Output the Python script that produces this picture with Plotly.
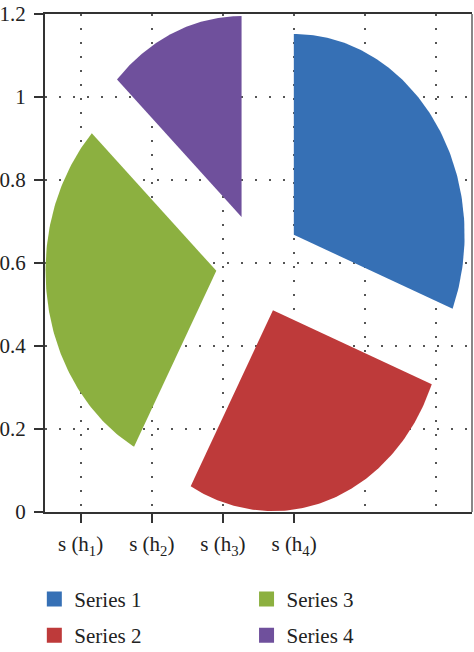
import numpy as np
import plotly.graph_objects as go

# ---- data ----
CATEGORIES = ["s (h<sub>1</sub>)", "s (h<sub>2</sub>)", "s (h<sub>3</sub>)", "s (h<sub>4</sub>)"]
N_GRID_COLS = 6
SERIES = ["Series 1", "Series 2", "Series 3", "Series 4"]
VALUES = [0.31, 0.27, 0.29, 0.13]
COLORS = ["#3670B5", "#BE3A3A", "#8CB040", "#6F509C"]
LEGEND_OF = ["legend", "legend", "legend2", "legend2"]

# ---- pie geometry (in axis units) ----
CX, CY = N_GRID_COLS / 2, 0.6
RX, RY = 2.4, 0.484
EXPLODE = 0.25
FONT = "Liberation Serif"

fig = go.Figure()

start = 90.0
for name, v, c in zip(SERIES, VALUES, COLORS):
    a0 = start
    a1 = start - v * 360.0
    mid = np.radians((a0 + a1) / 2)
    ox = CX + EXPLODE * RX * np.cos(mid)
    oy = CY + EXPLODE * RY * np.sin(mid)
    th = np.radians(np.linspace(a0, a1, 120))
    xs = np.concatenate([[ox], ox + RX * np.cos(th), [ox]])
    ys = np.concatenate([[oy], oy + RY * np.sin(th), [oy]])
    fig.add_trace(go.Scatter(x=xs, y=ys, mode="lines", fill="toself",
                             fillcolor=c, line=dict(width=0, color=c),
                             showlegend=False, hoverinfo="skip"))
    start = a1

for name, c, lg in zip(SERIES, COLORS, LEGEND_OF):
    fig.add_trace(go.Scatter(x=[None], y=[None], mode="markers", name=name,
                             marker=dict(symbol="square", size=15, color=c),
                             legend=lg, legendgroup=name))

grid = dict(gridcolor="#555555", gridwidth=1.5, griddash="2px,12px")
fig.update_layout(
    width=474, height=652,
    margin=dict(l=45, r=2, t=14, b=140, autoexpand=False),
    paper_bgcolor="white", plot_bgcolor="white",
    font=dict(family=FONT, size=21, color="#222222"),
    xaxis=dict(range=[0, N_GRID_COLS], showline=True, linecolor="#333333", linewidth=2,
               mirror=True, ticks="outside", ticklen=9, tickwidth=1.5, tickcolor="#333333",
               tickvals=[i + 0.5 for i in range(len(CATEGORIES))], ticktext=CATEGORIES,
               showgrid=False, zeroline=False, automargin=False, ticklabelstandoff=3,
               minor=dict(tickvals=[i + 0.5 for i in range(N_GRID_COLS)], showgrid=True,
                          ticks="", **grid)),
    yaxis=dict(range=[0, 1.2], dtick=0.2, showline=True, linecolor="#333333", linewidth=2,
               ticks="outside", ticklen=9, tickwidth=1.5, tickcolor="#333333", automargin=False,
               showgrid=True, zeroline=False, ticklabelstandoff=4, **grid),
    legend=dict(x=-0.025, y=-0.134, xanchor="left", yanchor="top", orientation="v",
                tracegroupgap=6, font=dict(size=21), bgcolor="rgba(0,0,0,0)"),
    legend2=dict(x=0.472, y=-0.134, xanchor="left", yanchor="top", orientation="v",
                 tracegroupgap=6, font=dict(size=21), bgcolor="rgba(0,0,0,0)"),
    shapes=[dict(type="line", xref="paper", yref="paper", x0=1, x1=1, y0=0, y1=1,
                 line=dict(color="#888888", width=2))],
)

fig.write_html("out.html")
